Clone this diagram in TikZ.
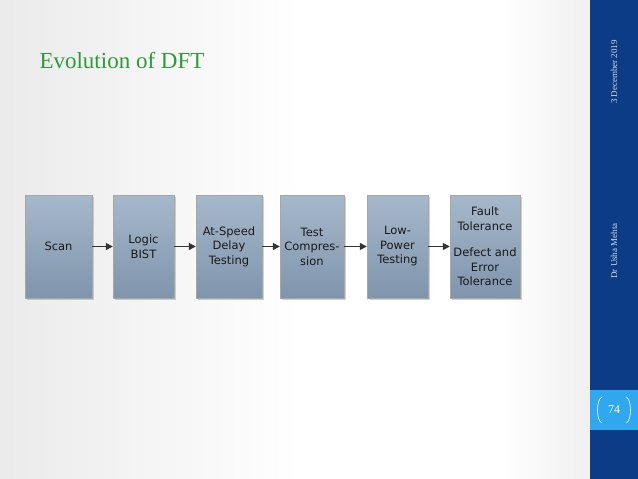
\documentclass[tikz,border=0pt]{standalone}
\usepackage{fontspec}
\setmainfont{Liberation Serif}
\newfontfamily\boxfont{DejaVu Sans}
\usetikzlibrary{shadows,arrows.meta}
\definecolor{side}{HTML}{0B3C85}
\definecolor{band}{HTML}{2FA8F0}
\definecolor{ttl}{HTML}{2E9B3A}
\definecolor{boxtop}{HTML}{A6B8CB}
\definecolor{boxbot}{HTML}{7F95AC}
\begin{document}
\begin{tikzpicture}[x=1pt,y=-1pt,
  stepbox/.style={draw=black!35,line width=0.4pt,top color=boxtop,bottom color=boxbot,drop shadow={shadow xshift=2pt,shadow yshift=-2pt,opacity=0.35},
    font=\boxfont\fontsize{11.5}{14.5}\selectfont,text=black!90,align=center,inner sep=0pt},
  arr/.style={-{Triangle[length=7pt,width=7pt]},line width=1.3pt,black!80}]
\useasboundingbox (0,0) rectangle (638,479);
\shade[left color=black!8,right color=white] (0,0) rectangle (300,479);
\fill[white] (300,0) rectangle (590,479);
\shade[left color=white,right color=black!6] (500,0) rectangle (590,479);
\fill[side] (590,0) rectangle (638,479);
\fill[band] (590,390) rectangle (638,430);
\node[anchor=west,text=ttl,font=\fontsize{23}{26}\selectfont] (title) at (36,61) {Evolution of DFT};
\node[rotate=90,text=white!80!side,font=\fontsize{9}{10}\selectfont] (date) at (614,72) {3 December 2019};
\node[rotate=90,text=white!80!side,font=\fontsize{9}{10}\selectfont] (auth) at (614,251) {Dr Usha Mehta};
\node[text=white,font=\fontsize{12}{14}\selectfont] (num) at (614,410) {74};
\draw[white,line width=0.6pt] (602,397) .. controls (596,399) and (596,421) .. (602,423);
\draw[white,line width=0.6pt] (626,397) .. controls (632,399) and (632,421) .. (626,423);
\node[stepbox,minimum width=67,minimum height=103] (b1) at (58.5,246.5) {Scan};
\node[stepbox,minimum width=61,minimum height=103] (b2) at (143.5,246.5) {Logic\\BIST};
\node[stepbox,minimum width=66,minimum height=103] (b3) at (229,246.5) {At-Speed\\Delay\\Testing};
\node[stepbox,minimum width=64,minimum height=103] (b4) at (312,246.5) {Test\\Compres-\\sion};
\node[stepbox,minimum width=61,minimum height=103] (b5) at (397.5,246.5) {Low-\\Power\\Testing};
\node[stepbox,minimum width=70,minimum height=103] (b6) at (485,246.5) {Fault\\Tolerance\\[12pt]Defect and\\Error\\Tolerance};
\foreach \a/\b in {b1/b2,b2/b3,b3/b4,b4/b5,b5/b6} \draw[arr] (\a) -- (\b);
\end{tikzpicture}
\end{document}
